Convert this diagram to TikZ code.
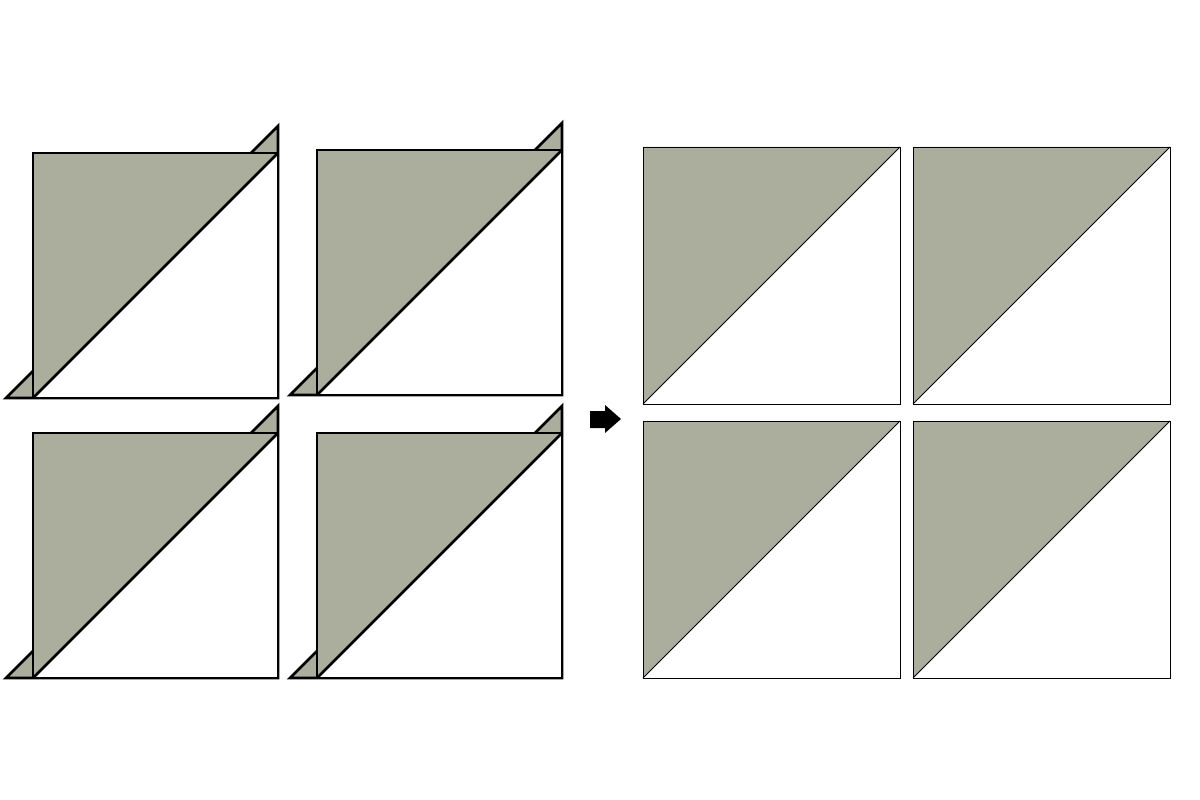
\documentclass[tikz,border=0pt]{standalone}
\usepackage{tikz}
\usepackage{xcolor}
\definecolor{htgray}{RGB}{171,173,157}
\tikzstyle{seam} = [line width=1.6pt, color=black]
\tikzstyle{finished} = [line width=0.5pt, color=black]

\begin{document}
\begin{tikzpicture}[x=0.02cm, y=-0.02cm]
\useasboundingbox (0,0) rectangle (1200,800);

% Sewn blocks, dog-ears still on
\foreach \bx/\by in {33/153, 317/150, 33/433, 317/433} {
  \def\s{245}
  \def\d{27}
  \filldraw[seam, fill=htgray] (\bx-\d,\by+\s) -- (\bx+\s,\by-\d) -- (\bx+\s,\by+\s) -- cycle;
  \fill[htgray] (\bx,\by) -- (\bx+\s,\by) -- (\bx,\by+\s) -- cycle;
  \fill[white] (\bx+\s,\by) -- (\bx+\s,\by+\s) -- (\bx,\by+\s) -- cycle;
  \draw[seam] (\bx,\by) rectangle (\bx+\s,\by+\s);
  \draw[seam] (\bx,\by+\s) -- (\bx+\s,\by);
}

% Arrow
\fill[black] (590,411) -- (605,411) -- (605,405) -- (621,419) -- (605,433) -- (605,428) -- (590,428) -- cycle;

% Trimmed blocks
\foreach \bx/\by in {643/147, 913/147, 643/421, 913/421} {
  \def\s{257}
  \fill[htgray] (\bx,\by) -- (\bx+\s,\by) -- (\bx,\by+\s) -- cycle;
  \draw[finished] (\bx,\by) rectangle (\bx+\s,\by+\s);
  \draw[finished] (\bx,\by+\s) -- (\bx+\s,\by);
}
\end{tikzpicture}
\end{document}
